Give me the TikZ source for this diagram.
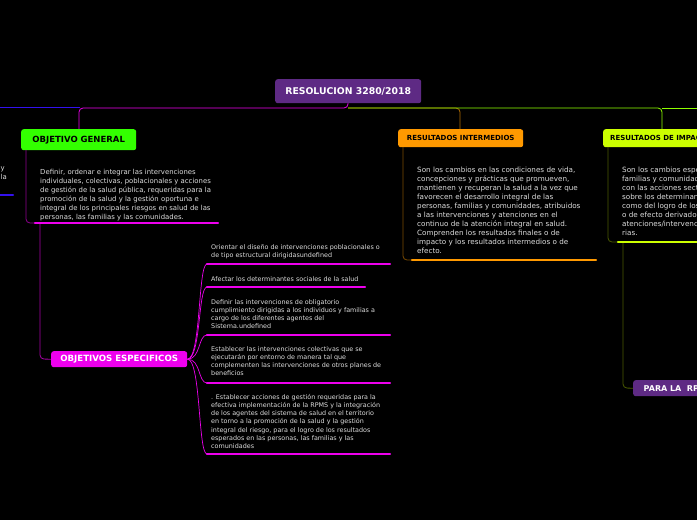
\documentclass[tikz,border=0pt]{standalone}
\usepackage{fontspec}
\setmainfont{DejaVu Sans}
\definecolor{rootc}{HTML}{5E2A84}
\definecolor{ogc}{HTML}{33FF00}
\definecolor{mag}{HTML}{EE00EE}
\definecolor{orc}{HTML}{FF9900}
\definecolor{ygc}{HTML}{CCFF00}
\definecolor{olc}{HTML}{4A5A00}
\definecolor{brc}{HTML}{7A4A00}
\definecolor{txc}{HTML}{DDDDDD}
\definecolor{blc}{HTML}{3311EE}
\begin{document}
\begin{tikzpicture}[x=1pt,y=-1pt,
 box/.style={rounded corners=2.5pt,inner sep=0pt,font=\bfseries\fontsize{8.5}{10}\selectfont,anchor=north west},
 body/.style={inner sep=0pt,anchor=north west,align=left,text=txc,font=\fontsize{6.9}{9}\selectfont},
 uline/.style={line width=2.2pt,line cap=round},
 conn/.style={line width=0.8pt,rounded corners=4pt}]
\fill[black] (0,0) rectangle (697,520);
\useasboundingbox (0,0) rectangle (697,520);
\clip (0,0) rectangle (697,520);
% root
\node[box,fill=rootc,text=white,minimum width=146,minimum height=24,font=\bfseries\fontsize{9.3}{10}\selectfont] (root) at (275,79) {RESOLUCION 3280/2018};
% top lines
\draw[conn,blc] (0,107) -- (80,107);
\draw[conn,mag] (348,103) -- (348,108) -- (79,108) -- (79,130);
\draw[conn,brc!60!orc] (348,108) -- (460,108) -- (460,130);
\draw[conn,ygc!70!green] (348,108) -- (662,108) -- (662,130);
\draw[conn,ygc!70!green] (662,108) -- (697,108);
% objetivo general
\node[box,fill=ogc,text=black,minimum width=115,minimum height=21] (og) at (21,129) {OBJETIVO GENERAL};
\node[body] (ogt) at (40,169) {Definir, ordenar e integrar las intervenciones\\individuales, colectivas, poblacionales y acciones\\de gestión de la salud pública, requeridas para la\\promoción de la salud y la gestión oportuna e\\integral de los principales riesgos en salud de las\\personas, las familias y las comunidades.};
\coordinate (ogu1) at (35,223); \coordinate (ogu2) at (218,223);
\draw[conn,mag!60!black] (26,150) -- (26,223) -- (ogu1);
\draw[uline,mag] (ogu1) -- (ogu2);
% left cut
\node[body,anchor=north east] (lt) at (7,167) {y\\la};
\coordinate (lu) at (13,195);
\draw[uline,blc] (0,195) -- (lu);
% objetivos especificos
\node[box,fill=mag,text=white,minimum width=136,minimum height=16,font=\bfseries\fontsize{8.6}{10}\selectfont] (oe) at (51,351) {OBJETIVOS ESPECIFICOS};
\draw[conn,mag!70!black] (40,224) -- (40,359) -- (oe.west);
\foreach \y/\e/\t/\n in {
 264/390/{Orientar el diseño de intervenciones poblacionales o\\de tipo estructural dirigidasundefined}/244,
 287/365/{Afectar los determinantes sociales de la salud}/276,
 335/390/{Definir las intervenciones de obligatorio\\cumplimiento dirigidas a los individuos y familias a\\cargo de los diferentes agentes del\\Sistema.undefined}/299,
 383/390/{Establecer las intervenciones colectivas que se\\ejecutarán por entorno de manera tal que\\complementen las intervenciones de otros planes de\\beneficios}/346,
 454/390/{. Establecer acciones de gestión requeridas para la\\efectiva implementación de la RPMS y la integración\\de los agentes del sistema de salud en el territorio\\en torno a la promoción de la salud y la gestión\\integral del riesgo, para el logro de los resultados\\esperados en las personas, las familias y las\\comunidades}/394}{
 \node[body,font=\fontsize{6.4}{8.2}\selectfont] (it\y) at (211,\n) {\t};
 \coordinate (ua\y) at (207,\y); \coordinate (ub\y) at (\e,\y);
 \draw[mag,line width=0.7pt] (oe.east) .. controls (201,359) and (198,\y) .. (ua\y);
 \draw[uline,mag] (ua\y) -- (ub\y);
}
% resultados intermedios
\node[box,fill=orc,text=black,minimum width=125,minimum height=18,font=\bfseries\fontsize{7}{8}\selectfont] (ri) at (398,129) {RESULTADOS INTERMEDIOS};
\node[body,font=\fontsize{7.2}{9}\selectfont] (rit) at (417,167) {Son los cambios en las condiciones de vida,\\concepciones y prácticas que promueven,\\mantienen y recuperan la salud a la vez que\\favorecen el desarrollo integral de las\\personas, familias y comunidades, atribuidos\\a las intervenciones y atenciones en el\\continuo de la atención integral en salud.\\Comprenden los resultados finales o de\\impacto y los resultados intermedios o de\\efecto.};
\coordinate (riu1) at (412,260); \coordinate (riu2) at (596,260);
\draw[conn,brc] (403,147) -- (403,260) -- (riu1);
\draw[uline,orc] (riu1) -- (riu2);
% resultados de impacto
\node[box,fill=ygc,text=black,minimum width=110,minimum height=18,font=\bfseries\fontsize{7}{8}\selectfont,anchor=north west,align=left] (rim) at (603,129) {\hspace{7pt}RESULTADOS DE IMPACTO\hspace{10pt}};
\node[body,font=\fontsize{7.2}{9}\selectfont] (rimt) at (622,167) {Son los cambios esperados en las personas,\\familias y comunidades\\con las acciones sectoriales\\sobre los determinantes\\como del logro de los\\o de efecto derivado\\atenciones/intervenciones\\rias.};
\coordinate (rmu1) at (618,242); \coordinate (rmu2) at (697,242);
\draw[conn,olc] (608,147) -- (608,242) -- (rmu1);
\draw[uline,ygc] (rmu1) -- (rmu2);
% para la rpms
\node[box,fill=rootc,text=white,minimum width=90,minimum height=16,anchor=north west,font=\bfseries\fontsize{8}{9}\selectfont] (pr) at (633,380) {PARA LA\ \ RPMS\hspace{30pt}};
\draw[conn,olc] (623,243) -- (623,388) -- (pr.west);
\end{tikzpicture}
\end{document}
